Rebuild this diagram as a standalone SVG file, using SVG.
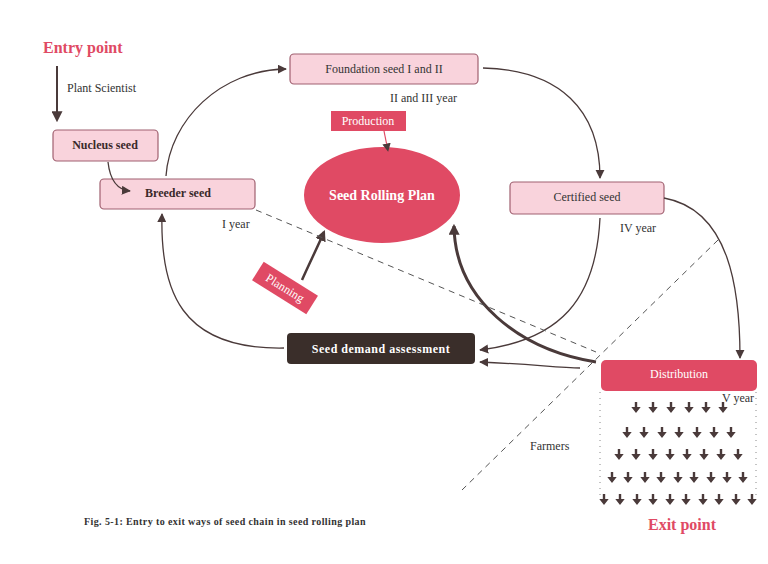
<svg xmlns="http://www.w3.org/2000/svg" width="768" height="564" viewBox="0 0 768 564" xmlns:xlink="http://www.w3.org/1999/xlink">
<style>
.pink{fill:#f9d3dc;stroke:#a06070;stroke-width:1.2}
.red{fill:#e04a64}
.t{font-family:"Liberation Serif",serif;font-size:12px;fill:#333}
.tb{font-family:"Liberation Serif",serif;font-size:12px;font-weight:bold;fill:#3a2a2a}
.w{font-family:"Liberation Serif",serif;font-size:12px;fill:#fff}
.c{fill:none;stroke:#4a3a3a;stroke-width:1.3}
</style>
<defs>
<marker id="ah" viewBox="0 0 10 10" refX="9" refY="5" markerWidth="7" markerHeight="7" orient="auto"><path d="M0,0L10,5L0,10z" fill="#4a3a3a"/></marker>
<marker id="ahb" viewBox="0 0 10 10" refX="8" refY="5" markerWidth="11" markerHeight="11" markerUnits="userSpaceOnUse" orient="auto"><path d="M0,0L10,5L0,10z" fill="#4a3a3a"/></marker>
<path id="da" d="M-1.2,-6h2.4v5h3.5l-4.7,6l-4.7,-6h3.5z" fill="#4a3a3a"/>
</defs>
<rect width="768" height="564" fill="#fff"/>
<g id="entry"><text x="43" y="53" font-family="Liberation Serif,serif" font-size="16" font-weight="bold" fill="#e04a64">Entry point</text>
<text x="67" y="92" class="t">Plant Scientist</text></g>
<g id="nucleus"><rect x="53" y="130" width="105" height="31" rx="4" class="pink"/><text x="105" y="149" text-anchor="middle" class="tb" font-size="11">Nucleus seed</text></g>
<g id="breeder"><rect x="100" y="179" width="155" height="30" rx="4" class="pink"/><text x="178" y="197" text-anchor="middle" class="tb" font-size="11">Breeder seed</text><text x="222" y="228" class="t">I year</text></g>
<g id="foundation"><rect x="290" y="54" width="188" height="30" rx="4" class="pink"/><text x="384" y="73" text-anchor="middle" class="t">Foundation seed I and II</text><text x="390" y="102" class="t">II and III year</text></g>
<g id="certified"><rect x="510" y="182" width="154" height="32" rx="4" class="pink"/><text x="587" y="201" text-anchor="middle" class="t">Certified seed</text><text x="620" y="232" class="t">IV year</text></g>
<g id="production"><rect x="331" y="111" width="75" height="20" class="red"/><text x="368" y="125" text-anchor="middle" class="w">Production</text></g>
<g id="srp"><ellipse cx="382" cy="195" rx="78" ry="48" class="red"/><text x="382" y="200" text-anchor="middle" font-family="Liberation Serif,serif" font-size="14" font-weight="bold" fill="#fff">Seed Rolling Plan</text></g>
<g id="planning"><g transform="translate(285,288) rotate(32)"><rect x="-32" y="-11" width="64" height="22" class="red"/><text x="0" y="4" text-anchor="middle" class="w">Planning</text></g></g>
<g id="demand"><rect x="287" y="333" width="188" height="31" rx="4" fill="#3a2e2a"/><text x="381" y="353" text-anchor="middle" font-family="Liberation Serif,serif" font-size="12" font-weight="bold" fill="#fff" letter-spacing="0.5">Seed demand assessment</text></g>
<g id="distribution"><rect x="601" y="360" width="156" height="31" rx="5" class="red"/><text x="679" y="378" text-anchor="middle" class="w">Distribution</text><text x="722" y="402" class="t">V year</text></g>
<g id="farmers"><text x="530" y="450" class="t" font-size="11">Farmers</text>
<line x1="600" y1="392" x2="600" y2="500" stroke="#888" stroke-dasharray="1 5"/>
<line x1="756" y1="392" x2="756" y2="500" stroke="#888" stroke-dasharray="1 5"/>
<use xlink:href="#da" x="636" y="408"/><use xlink:href="#da" x="653" y="408"/><use xlink:href="#da" x="671" y="408"/><use xlink:href="#da" x="689" y="408"/><use xlink:href="#da" x="706" y="408"/><use xlink:href="#da" x="723" y="408"/>
<use xlink:href="#da" x="627" y="433"/><use xlink:href="#da" x="644" y="433"/><use xlink:href="#da" x="662" y="433"/><use xlink:href="#da" x="679" y="433"/><use xlink:href="#da" x="697" y="433"/><use xlink:href="#da" x="714" y="433"/><use xlink:href="#da" x="731" y="433"/>
<use xlink:href="#da" x="619" y="455"/><use xlink:href="#da" x="636" y="455"/><use xlink:href="#da" x="653" y="455"/><use xlink:href="#da" x="670" y="455"/><use xlink:href="#da" x="687" y="455"/><use xlink:href="#da" x="704" y="455"/><use xlink:href="#da" x="721" y="455"/><use xlink:href="#da" x="738" y="455"/>
<use xlink:href="#da" x="612" y="478"/><use xlink:href="#da" x="628" y="478"/><use xlink:href="#da" x="645" y="478"/><use xlink:href="#da" x="661" y="478"/><use xlink:href="#da" x="678" y="478"/><use xlink:href="#da" x="694" y="478"/><use xlink:href="#da" x="711" y="478"/><use xlink:href="#da" x="727" y="478"/><use xlink:href="#da" x="743" y="478"/>
<use xlink:href="#da" x="604" y="500"/><use xlink:href="#da" x="620" y="500"/><use xlink:href="#da" x="637" y="500"/><use xlink:href="#da" x="653" y="500"/><use xlink:href="#da" x="670" y="500"/><use xlink:href="#da" x="686" y="500"/><use xlink:href="#da" x="703" y="500"/><use xlink:href="#da" x="719" y="500"/><use xlink:href="#da" x="736" y="500"/><use xlink:href="#da" x="752" y="500"/>
<text x="682" y="530" text-anchor="middle" font-family="Liberation Serif,serif" font-size="16" font-weight="bold" fill="#e04a64">Exit point</text></g>
<g id="caption"><text x="84" y="525" font-family="Liberation Serif,serif" font-size="10" font-weight="bold" fill="#333" letter-spacing="0.4">Fig. 5-1: Entry to exit ways of seed chain in seed rolling plan</text></g>
<g id="connectors">
<line x1="57" y1="66" x2="57" y2="120" stroke="#4a3a3a" stroke-width="2" marker-end="url(#ahb)"/>
<path class="c" d="M108,162 C110,180 118,190 130,191" marker-end="url(#ah)"/>
<path class="c" d="M166,176 C170,120 220,70 286,69" marker-end="url(#ah)"/>
<path class="c" d="M483,68 C560,70 600,110 600,178" marker-end="url(#ah)"/>
<path class="c" d="M664,198 C730,210 740,290 740,358" marker-end="url(#ah)"/>
<path class="c" d="M600,218 C596,300 560,340 480,350" marker-end="url(#ah)"/>
<path class="c" d="M580,368 C560,368 530,364 480,362" marker-end="url(#ah)"/>
<path class="c" d="M284,348 C180,350 160,290 162,214" marker-end="url(#ah)"/>
<line x1="384" y1="131" x2="388" y2="151" stroke="#e04a64" stroke-width="1.2" marker-end="url(#ah)"/>
<path d="M302,280 C310,262 318,246 324,232" fill="none" stroke="#4a3a3a" stroke-width="2.5" marker-end="url(#ahb)"/>
<path d="M596,362 C520,350 455,300 454,226" fill="none" stroke="#4a3a3a" stroke-width="3" marker-end="url(#ahb)"/>
<line x1="256" y1="210" x2="596" y2="352" stroke="#555" stroke-dasharray="6 5"/>
<line x1="718" y1="240" x2="462" y2="490" stroke="#555" stroke-dasharray="6 5"/>
</g>
</svg>
